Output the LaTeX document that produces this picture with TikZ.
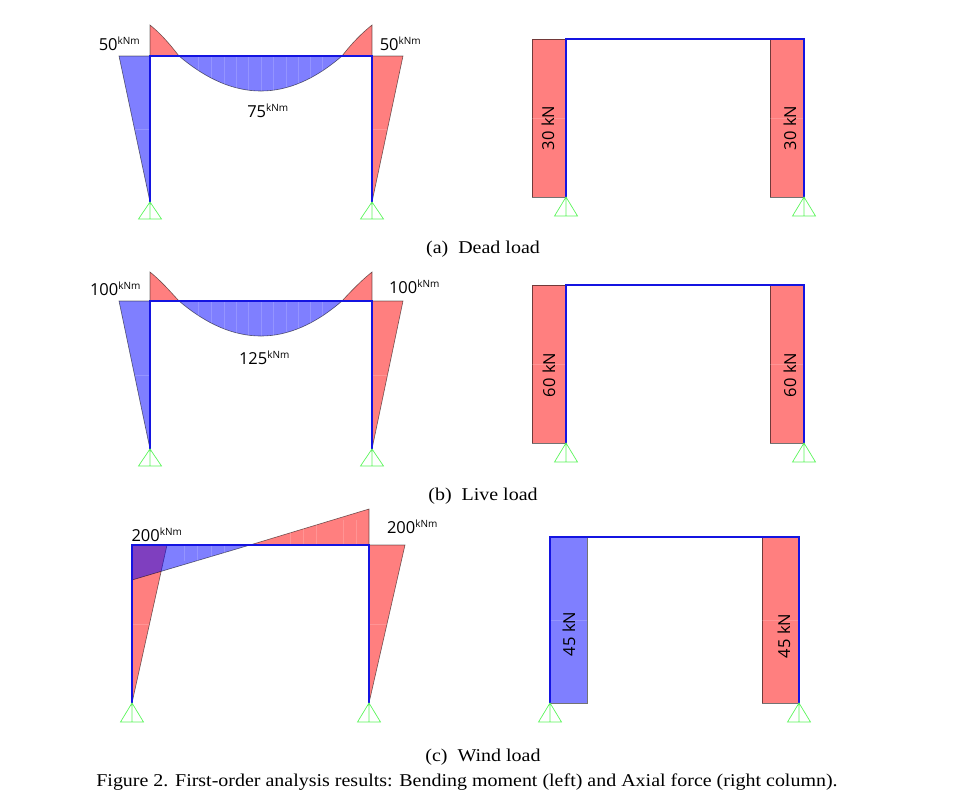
\documentclass[tikz,border=0pt]{standalone}
\usepackage{fontspec}
\setmainfont[FakeStretch=1.11]{Liberation Serif}
\newfontfamily\labelfont{Open Sans}
\definecolor{framecol}{RGB}{20,20,225}
\definecolor{supportcol}{RGB}{90,245,90}
\tikzset{
  redpart/.style={fill=red,fill opacity=0.5,draw=black,draw opacity=0.55,line width=0.6pt},
  bluepart/.style={fill=blue,fill opacity=0.5,draw=black,draw opacity=0.55,line width=0.6pt},
  frameline/.style={draw=framecol,line width=1.7pt},
  thinbeam/.style={draw=framecol,line width=1.4pt},
  supportline/.style={draw=supportcol,line width=0.7pt},
  stripe/.style={draw=white,draw opacity=0.16,line width=0.6pt},
  momentlabel/.style={font=\labelfont\fontsize{16.5}{18}\selectfont,inner sep=0pt,text=black},
  forcelabel/.style={font=\labelfont\fontsize{16.5}{18}\selectfont,inner sep=0pt,text=black,rotate=90},
  captionlabel/.style={font=\fontsize{18}{20}\selectfont,inner sep=0pt,text=black},
}
\newcommand{\moment}[1]{#1\textsuperscript{\fontsize{10}{10}\selectfont kNm}}
\newcommand{\pinsupport}[3]{% x, apex y, base y
  \draw[supportline] (#1,#2) -- (#1-11.5,#3) -- (#1+11.5,#3) -- cycle (#1,#2) -- (#1,#3);}
\begin{document}
\begin{tikzpicture}[x=1pt,y=-1pt]
    \useasboundingbox (0,0) rectangle (958,803);
    % bending moment, dead and live load
    \foreach \ytop/\yred/\ysag/\ybot/\ybase in {56/25/91/202/219,301/272/336/449/466}{
        \draw[bluepart] (150,\ytop) -- (119,\ytop) -- (150,\ybot) -- cycle;
        \draw[redpart] (372,\ytop) -- (403,\ytop) -- (372,\ybot) -- cycle;
        \draw[stripe] (135,\ytop/2+\ybot/2) -- (150,\ytop/2+\ybot/2);
        \draw[stripe] (372,\ytop/2+\ybot/2) -- (388,\ytop/2+\ybot/2);
        \draw[redpart] (150,\ytop) -- (150,\yred) .. controls (160,\yred+8) and (169,\yred+18) .. (179,\ytop) -- cycle;
        \draw[redpart] (372,\ytop) -- (372,\yred) .. controls (362,\yred+8) and (352,\yred+18) .. (342,\ytop) -- cycle;
        \draw[bluepart] (179,\ytop) .. controls (234,\ytop+46.7) and (288,\ytop+46.7) .. (342,\ytop) -- cycle;
        \begin{scope}
            \clip (179,\ytop) .. controls (234,\ytop+46.7) and (288,\ytop+46.7) .. (342,\ytop) -- cycle;
            \foreach \xs in {198,211,224,236,248,261,273,286,298,310,322}
                \draw[stripe] (\xs,\ytop) -- (\xs,\ysag);
        \end{scope}
        \draw[frameline] (150,\ybot) -- (150,\ytop) -- (372,\ytop) -- (372,\ybot);
        \pinsupport{150}{\ybot}{\ybase}
        \pinsupport{372}{\ybot}{\ybase}
    }
    % bending moment, wind load
    \draw[redpart] (132,545) -- (167,545) -- (132,703) -- cycle;
    \draw[bluepart] (132,545) -- (132,580) -- (250,545) -- cycle;
    \draw[redpart] (250,545) -- (369,509) -- (369,545) -- cycle;
    \draw[redpart] (369,545) -- (405,545) -- (369,703) -- cycle;
    \draw[stripe] (132,624) -- (149,624);
    \draw[stripe] (369,624) -- (387,624);
    \foreach \xs in {184,197,211,224}
        \draw[stripe] (\xs,546) -- (\xs,561);
    \foreach \xs in {290,303,316,343,356}
        \draw[stripe] (\xs,544) -- (\xs,520);
    \draw[frameline] (132,703) -- (132,545) -- (369,545) -- (369,703);
    \pinsupport{132}{703}{722}
    \pinsupport{369}{703}{722}
    % axial force, dead and live load
    \foreach \ytop/\ybot/\ybase in {39/197/216,285/443/462}{
        \draw[redpart] (532,\ytop) rectangle (566,\ybot);
        \draw[redpart] (770,\ytop) rectangle (804,\ybot);
        \draw[stripe] (532,\ytop/2+\ybot/2) -- (566,\ytop/2+\ybot/2);
        \draw[stripe] (770,\ytop/2+\ybot/2) -- (804,\ytop/2+\ybot/2);
        \draw[thinbeam] (566,\ybot) -- (566,\ytop) -- (804,\ytop) -- (804,\ybot);
        \pinsupport{566}{\ybot}{\ybase}
        \pinsupport{804}{\ybot}{\ybase}
    }
    % axial force, wind load
    \draw[bluepart] (550,537) rectangle (587,703);
    \draw[redpart] (762,537) rectangle (799,703);
    \draw[stripe] (550,620) -- (587,620);
    \draw[stripe] (762,620) -- (799,620);
    \draw[thinbeam] (550,703) -- (550,537) -- (799,537) -- (799,703);
    \pinsupport{550}{703}{722}
    \pinsupport{799}{703}{722}
    % labels
    \node[momentlabel] (deadleft) at (119.5,44) {\moment{50}};
    \node[momentlabel] (deadright) at (400.5,44) {\moment{50}};
    \node[momentlabel] (deadmid) at (268,111) {\moment{75}};
    \node[momentlabel] (liveleft) at (115.5,289) {\moment{100}};
    \node[momentlabel] (liveright) at (414.5,287) {\moment{100}};
    \node[momentlabel] (livemid) at (264.5,358) {\moment{125}};
    \node[momentlabel] (windleft) at (157,535) {\moment{200}};
    \node[momentlabel] (windright) at (412.5,527) {\moment{200}};
    \node[forcelabel] (deadaxleft) at (548,128) {30 kN};
    \node[forcelabel] (deadaxright) at (790,128) {30 kN};
    \node[forcelabel] (liveaxleft) at (549,375) {60 kN};
    \node[forcelabel] (liveaxright) at (790,375) {60 kN};
    \node[forcelabel] (windaxleft) at (569,634) {45 kN};
    \node[forcelabel] (windaxright) at (784,636) {45 kN};
    \node[captionlabel] (capa) at (483,249.5) {(a)\ \ Dead load};
    \node[captionlabel] (capb) at (483,496.5) {(b)\ \ Live load};
    \node[captionlabel] (capc) at (483,757.5) {(c)\ \ Wind load};
    \node[captionlabel] (figcap) at (467,782) {Figure 2. First-order analysis results: Bending moment (left) and Axial force (right column).};
\end{tikzpicture}
\end{document}
